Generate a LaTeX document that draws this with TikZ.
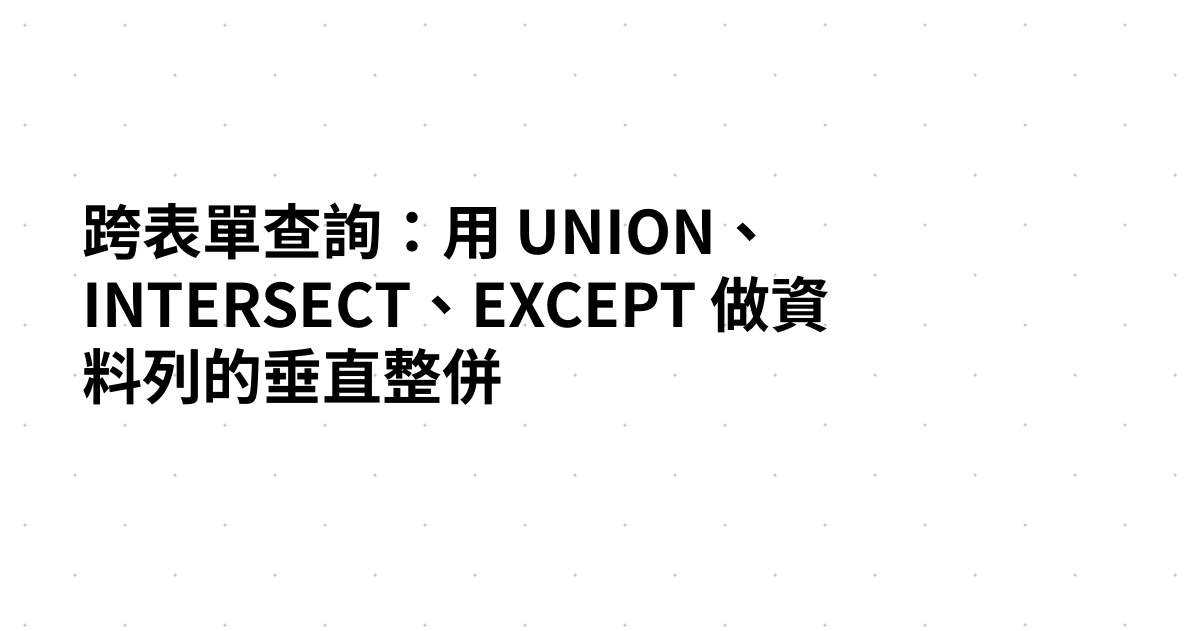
\documentclass[tikz,border=0pt]{standalone}
\usepackage{fontspec}
\newfontfamily\cjk{Noto Sans CJK TC}[BoldFont={* Bold}]
\usetikzlibrary{positioning}
\definecolor{dotgray}{HTML}{C8C8C8}
\tikzstyle{griddot} = [circle, fill=dotgray, inner sep=0pt, minimum size=3.5pt]
\tikzstyle{titleline} = [anchor=base west, inner sep=0pt, font=\cjk\bfseries\fontsize{60}{60}\selectfont]
\begin{document}
\begin{tikzpicture}[x=1pt, y=-1pt]
\useasboundingbox[fill=white] (0,0) rectangle (1200,630);
% dot grid
\foreach \r in {0,...,12} {
  \pgfmathtruncatemacro{\off}{mod(\r,2)*50}
  \foreach \c in {0,...,11} {
    \node[griddot] at (25+\off+100*\c, 25+50*\r) {};
  }
}
\node (line1) [titleline] at (82,254) {跨表單查詢：用 UNION、};
\node (line2) [titleline] at (82,327) {INTERSECT、EXCEPT 做資};
\node (line3) [titleline] at (82,399) {料列的垂直整併};
\end{tikzpicture}
\end{document}
